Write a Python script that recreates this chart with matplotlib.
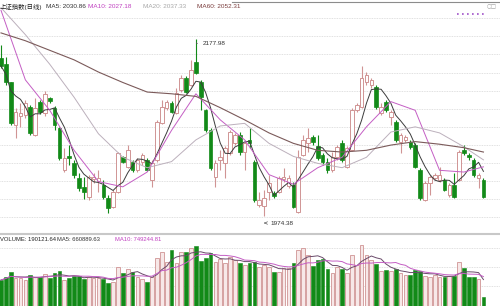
import numpy as np
import pandas as pd
import matplotlib.pyplot as plt
from matplotlib.lines import Line2D

plt.rcParams['font.family'] = ['Liberation Sans', 'Noto Sans CJK SC', 'DejaVu Sans']

# 上证指数 日K线
opens = [2156, 2149, 2128, 2079, 2090, 2091, 2100, 2068, 2106, 2093,
         2110, 2099, 2076, 2027, 2044, 2035, 2018, 2008, 1996, 2017,
         2015, 2010, 1995, 1985, 2002, 2042, 2031, 2037, 2027, 2037,
         2039, 2016, 2039, 2081, 2099, 2104, 2093, 2119, 2133, 2125,
         2152, 2129, 2096, 2073, 2019, 2039, 2035, 2047, 2058, 2068,
         2048, 2062, 2037, 1987, 1986, 2002, 2001, 2002, 2017, 2009,
         2010, 1979, 2045, 2058, 2065, 2055, 2045, 2037, 2027, 2042,
         2058, 2031, 2050, 2096, 2100, 2129, 2125, 2123, 2093, 2106,
         2088, 2083, 2060, 2062, 2060, 2056, 2027, 1993, 2012, 2018,
         2016, 2016, 1999, 2010, 2016, 2050, 2045, 2039, 2018, 2016]
highs = [2171, 2157, 2129, 2099, 2104, 2108, 2102, 2110, 2108, 2118,
         2111, 2101, 2077, 2053, 2056, 2039, 2024, 2019, 2022, 2024,
         2027, 2016, 1999, 2004, 2048, 2044, 2056, 2039, 2041, 2047,
         2041, 2039, 2085, 2108, 2108, 2107, 2122, 2137, 2136, 2154,
         2177.98, 2131, 2098, 2076, 2039, 2050, 2055, 2073, 2070, 2071,
         2062, 2076, 2039, 2002, 2004, 2022, 2003, 2021, 2030, 2022,
         2014, 2050, 2068, 2076, 2068, 2068, 2047, 2041, 2048, 2056,
         2062, 2055, 2099, 2104, 2147, 2140, 2133, 2125, 2104, 2108,
         2096, 2085, 2070, 2068, 2062, 2058, 2030, 2015, 2022, 2024,
         2031, 2018, 2012, 2024, 2050, 2056, 2047, 2041, 2024, 2018]
lows = [2145, 2125, 2079, 2064, 2077, 2087, 2068, 2066, 2092, 2090,
        2104, 2073, 2039, 2025, 2033, 2018, 2003, 1994, 1993, 2012,
        2002, 1994, 1978, 1984, 2001, 2035, 2030, 2025, 2025, 2033,
        2026, 2008, 2037, 2080, 2096, 2093, 2092, 2117, 2116, 2124,
        2138, 2096, 2071, 2027, 2008, 2027, 2018, 2045, 2056, 2045,
        2027, 2053, 1991, 1985, 1974.38, 1993, 1995, 2001, 2014, 2007,
        1984, 1978, 2044, 2048, 2056, 2039, 2033, 2024, 2025, 2039,
        2037, 2030, 2049, 2094, 2099, 2125, 2122, 2098, 2091, 2094,
        2079, 2060, 2047, 2060, 2052, 2030, 1993, 1992, 1999, 2016,
        2014, 2003, 1996, 1995, 2015, 2045, 2039, 2019, 2007, 1995]
closes = [2147, 2128, 2081, 2094, 2093, 2104, 2070, 2099, 2094, 2115,
          2107, 2079, 2041, 2041, 2041, 2022, 2007, 2002, 2019, 2019,
          2018, 1996, 1984, 2002, 2047, 2037, 2050, 2027, 2039, 2045,
          2027, 2035, 2083, 2100, 2106, 2094, 2116, 2133, 2117, 2142,
          2139, 2111, 2073, 2030, 2035, 2042, 2053, 2071, 2068, 2048,
          2058, 2058, 1993, 1993, 1995, 2012, 1998, 2018, 2019, 2018,
          1985, 2042, 2062, 2064, 2060, 2041, 2037, 2027, 2042, 2054,
          2039, 2053, 2096, 2102, 2133, 2137, 2131, 2100, 2100, 2096,
          2094, 2062, 2068, 2065, 2054, 2031, 1995, 2012, 2019, 2022,
          2022, 2004, 2010, 1996, 2048, 2047, 2042, 2022, 2022, 1996]
# 成交量 (千)
volumes = [546, 609, 714, 588, 588, 546, 651, 609, 609, 672,
           588, 693, 735, 546, 588, 630, 630, 567, 609, 588,
           588, 567, 483, 504, 819, 693, 777, 714, 609, 567,
           504, 609, 1008, 1134, 924, 1176, 903, 1134, 1134, 1218,
           1260, 945, 1008, 1113, 924, 987, 903, 1029, 966, 903,
           861, 903, 924, 819, 861, 819, 714, 714, 798, 798,
           903, 1176, 1218, 1071, 840, 966, 987, 777, 693, 819,
           777, 693, 1071, 861, 1281, 1071, 966, 882, 735, 756,
           735, 777, 693, 651, 651, 756, 735, 630, 609, 651,
           609, 609, 630, 630, 924, 798, 609, 609, 567, 190.12]

# 均线 (每5根K线读一个点)
ma_idx = [0, 5, 10, 15, 20, 25, 30, 35, 40, 45, 50, 55, 60, 65, 70, 75, 80, 85, 90, 95, 99]
ma10 = [2211, 2131, 2096, 2050, 2014, 2008, 2025, 2073, 2115, 2085, 2062,
        2022, 2011, 2030, 2042, 2077, 2106, 2096, 2027, 2025, 2031]
ma20 = [2214, 2183, 2149, 2111, 2069, 2042, 2030, 2037, 2062, 2078, 2081,
        2058, 2043, 2035, 2030, 2042, 2071, 2077, 2070, 2054, 2039]
ma60 = [2185, 2176, 2165, 2154, 2140, 2128, 2117, 2115, 2112, 2099, 2085,
        2070, 2058, 2050, 2048, 2050, 2056, 2060, 2057, 2053, 2048]

UP_EDGE = '#d09494'
UP_FILL = '#ffffff'
DN = '#128a18'

W, H = 500, 306
fig = plt.figure(figsize=(5, 3.06), dpi=100)
fig.patch.set_facecolor('white')

x = np.arange(len(closes))
o = np.array(opens); c = np.array(closes)
up = c >= o

# ---- K线区 ----
ax = fig.add_axes([0, 78 / H, 1, 228 / H])
ax.set_xlim(-0.205, 102.4)
ax.set_ylim(1960.65, 2222.85)
for s in ax.spines.values():
    s.set_visible(False)
ax.set_xticks([])
ax.set_yticks(np.arange(2201.8, 1970, -20.8))
ax.tick_params(left=False, labelleft=False)
ax.grid(axis='y', color='#d6d6d6', lw=0.6, ls=(0, (1, 1)))

wick_col = [UP_EDGE if u else DN for u in up]
ax.vlines(x, lows, highs, colors=wick_col, lw=0.8, zorder=2)
body_bot = np.minimum(o, c)
body_h = np.maximum(np.abs(c - o), 0.9)
ax.bar(x[up], body_h[up], bottom=body_bot[up], width=0.74,
       color=UP_FILL, edgecolor=UP_EDGE, lw=0.7, zorder=3)
ax.bar(x[~up], body_h[~up], bottom=body_bot[~up], width=0.74,
       color=DN, edgecolor=DN, lw=0.5, zorder=3)

ma5 = pd.Series(closes).rolling(5, min_periods=1).mean()
ax.plot(x, ma5, color='#3c3c3c', lw=0.7, zorder=4)
ax.plot(ma_idx, ma10, color='#c45ec4', lw=0.7, zorder=4)
ax.plot(ma_idx, ma20, color='#bcb0bc', lw=0.7, zorder=4)
ax.plot(ma_idx, ma60, color='#7b5a5a', lw=0.8, zorder=4)

# 最高 / 最低 标注
hi = int(np.argmax(highs)); lo = int(np.argmin(lows))
ax.annotate(f'{highs[hi]:.2f}', xy=(hi, highs[hi]), xytext=(hi + 1.4, highs[hi] - 5),
            fontsize=4.6, va='center', color='#333333',
            arrowprops=dict(arrowstyle='-', color='#555555', lw=0.5,
                            connectionstyle='angle,angleA=0,angleB=90'))
ax.annotate(f'{lows[lo]:.2f}', xy=(lo, lows[lo] - 8), xytext=(lo + 1.3, lows[lo] - 8),
            fontsize=4.6, va='center', color='#333333',
            arrowprops=dict(arrowstyle='->', color='#555555', lw=0.5))

# ---- 成交量区 ----
vax = fig.add_axes([0, 0, 1, 63 / H])
vax.set_xlim(-0.205, 102.4)
vax.set_ylim(0, 1323)
for s in vax.spines.values():
    s.set_visible(False)
vax.set_xticks([])
vax.set_yticks([420, 819, 1218])
vax.tick_params(left=False, labelleft=False)
vax.grid(axis='y', color='#d6d6d6', lw=0.6, ls=(0, (1, 1)))
v = np.array(volumes)
vax.bar(x[up], v[up], width=0.76, color='#f7e8e8', edgecolor=UP_EDGE, lw=0.6, zorder=3)
vax.bar(x[~up], v[~up], width=0.76, color=DN, edgecolor=DN, lw=0.4, zorder=3)
vma5 = pd.Series(volumes).rolling(5, min_periods=1).mean()
vma10 = pd.Series(volumes).rolling(10, min_periods=1).mean()
vax.plot(x, vma5, color='#6a4a6a', lw=0.7, zorder=4)
vax.plot(x, vma10, color='#c45ec4', lw=0.7, zorder=4)

# ---- 文字与边框 ----
def ftext(px, py, s, color='#222222', size=4.6):
    fig.text(px / W, 1 - py / H, s, fontsize=size, color=color, ha='left', va='center')

ftext(0, 6.5, '上证指数(日线)', '#222222')
ftext(46, 6.5, 'MA5: 2030.86', '#333333')
ftext(88, 6.5, 'MA10: 2027.18', '#c040c0')
ftext(143, 6.5, 'MA20: 2037.33', '#a8a8a8')
ftext(197, 6.5, 'MA60: 2052.31', '#7a3c3c')

ftext(0, 239.5, 'VOLUME: 190121.64', '#222222', 4.2)
ftext(57, 239.5, 'MA5: 660889.63', '#333333', 4.2)
ftext(115, 239.5, 'MA10: 749244.81', '#c040c0', 4.2)

fig.add_artist(Line2D([232 / W, 1], [1 - 1.5 / H] * 2, color='#8c8c8c', lw=0.8))
fig.add_artist(Line2D([0, 1], [1 - 234 / H] * 2, color='#c8c8c8', lw=1.5))
fig.add_artist(Line2D([457 / W, 486 / W], [1 - 13.5 / H] * 2, color='#a050c8',
                      lw=1.2, ls=(0, (1, 2))))
fig.text(497 / W, 1 - 6 / H, '○□', fontsize=4, color='#999999', ha='right', va='center',
         family=['DejaVu Sans'])

fig.savefig('out.png', dpi=100, facecolor='white')
